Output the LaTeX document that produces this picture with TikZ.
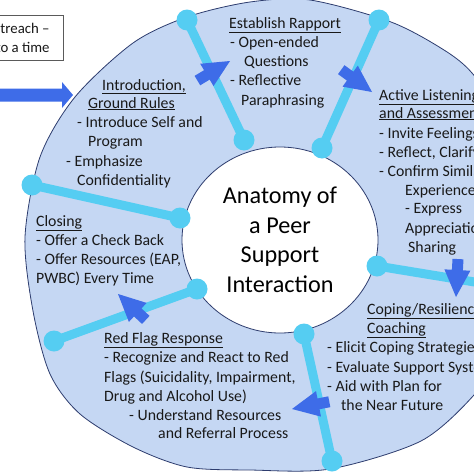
\documentclass[tikz,border=0pt]{standalone}
\usepackage{fontspec}
\setmainfont{Carlito}
\usetikzlibrary{shapes.geometric}
\definecolor{ringblue}{RGB}{197,215,243}
\definecolor{edgeblue}{RGB}{45,60,110}
\definecolor{connblue}{RGB}{85,205,242}
\definecolor{arrblue}{RGB}{62,108,232}
\definecolor{boxgray}{RGB}{90,90,90}
\tikzset{
  ring/.style={fill=ringblue, draw=edgeblue, line width=0.8pt},
  hub/.style={ellipse, fill=white, draw=edgeblue, line width=0.8pt, minimum width=196pt, minimum height=186pt, inner sep=0pt, align=center, font=\fontsize{24.2}{29.5}\selectfont},
  spoke/.style={draw=connblue, line width=9pt},
  knob/.style={circle, fill=connblue, minimum size=21pt, inner sep=0pt},
  ln/.style={anchor=base west, inner sep=0pt, font=\fontsize{15.8}{19}\selectfont, text=black!90},
  obox/.style={draw=boxgray, line width=0.8pt, fill=white, minimum height=45pt, minimum width=80pt, inner xsep=14pt, align=right, font=\fontsize{14.8}{19}\selectfont, text=black!90},
  flow/.pic={\fill[arrblue] (0,0) -- (-27,13) -- (-27,5.5) -- (-38,5.5) -- (-38,-5.5) -- (-27,-5.5) -- (-27,-13) -- cycle;}
}
\begin{document}
\begin{tikzpicture}[x=1pt,y=-1pt]
\useasboundingbox (0,0) rectangle (474,474);
\clip (0,0) rectangle (474,474);
% ring
\draw[ring] plot[smooth cycle] coordinates {(25,237) (40,157) (75,97) (133,43) (187,17) (250,2) (310,0) (391,22) (444,50) (472,73) (500,115) (512,180) (515,240) (508,310) (490,365) (474,395) (421,441) (330,469) (250,470) (187,467) (133,447) (80,414) (50,374) (33,311)};
% hub
\node[hub] (hub) at (280,240) {Anatomy of\\a Peer\\Support\\Interaction};
% spokes
\node[knob] (s1o) at (187,20) {};
\node[knob] (s1i) at (244,140) {};
\node[knob] (s2o) at (379,20) {};
\node[knob] (s2i) at (322,148) {};
\node[knob] (s3o) at (505,287) {};
\node[knob] (s3i) at (377,266) {};
\node[knob] (s4o) at (332,461) {};
\node[knob] (s4i) at (304,334) {};
\node[knob] (s5o) at (54,341) {};
\node[knob] (s5i) at (197,289) {};
\node[knob] (s6o) at (32,185) {};
\node[knob] (s6i) at (180,218) {};
\draw[spoke] (s1o.center) -- (s1i.center);
\draw[spoke] (s2o.center) -- (s2i.center);
\draw[spoke] (s3o.center) -- (s3i.center);
\draw[spoke] (s4o.center) -- (s4i.center);
\draw[spoke] (s5o.center) -- (s5i.center);
\draw[spoke] (s6o.center) -- (s6i.center);
% flow arrows
\pic[rotate=31] at (230,61) {flow};
\pic[rotate=-36] at (372,92) {flow};
\pic[rotate=-93] at (456,297) {flow};
\pic[rotate=191] at (292,409) {flow};
\pic[rotate=137] at (118,294) {flow};
% entry arrow and box
\fill[arrblue] (-20,88.5) -- (62,88.5) -- (62,82) -- (73,95) -- (62,108) -- (62,101.5) -- (-20,101.5) -- cycle;
\node[obox, anchor=east] (outreach) at (64,37.5) {Outreach –\\one to a time};
% Introduction
\node[ln] (i1) at (102,90) {\underline{Introduction,}};
\node[ln] (i2) at (88,108) {\underline{Ground Rules}};
\node[ln] (i3) at (77,127) {- Introduce Self and};
\node[ln] (i4) at (88,146) {Program};
\node[ln] (i5) at (66,166) {- Emphasize};
\node[ln] (i6) at (77,185) {Confidentiality};
% Establish Rapport
\node[ln] (e1) at (229,28) {\underline{Establish Rapport}};
\node[ln] (e2) at (230,47) {- Open-ended};
\node[ln] (e3) at (244,66) {Questions};
\node[ln] (e4) at (230,85) {- Reflective};
\node[ln] (e5) at (241,105) {Paraphrasing};
% Active Listening
\node[ln] (a1) at (379,100) {\underline{Active Listening}};
\node[ln] (a2) at (379,118) {\underline{and Assessment}};
\node[ln] (a3) at (379,138) {- Invite Feelings};
\node[ln] (a4) at (379,157) {- Reflect, Clarify};
\node[ln] (a5) at (379,176) {- Confirm Similar};
\node[ln] (a6) at (405,195) {Experiences};
\node[ln] (a7) at (405,213) {- Express};
\node[ln] (a8) at (405,233) {Appreciation for};
\node[ln] (a9) at (408,252) {Sharing};
% Coping
\node[ln] (k1) at (367,314) {\underline{Coping/Resilience}};
\node[ln] (k2) at (367,333) {\underline{Coaching}};
\node[ln] (k3) at (327,352) {- Elicit Coping Strategies};
\node[ln] (k4) at (327,372) {- Evaluate Support System};
\node[ln] (k5) at (327,391) {- Aid with Plan for};
\node[ln] (k6) at (341,410) {the Near Future};
% Red Flag
\node[ln] (r1) at (104,343) {\underline{Red Flag Response}};
\node[ln] (r2) at (104,362) {- Recognize and React to Red};
\node[ln] (r3) at (104,382) {Flags (Suicidality, Impairment,};
\node[ln] (r4) at (104,401) {Drug and Alcohol Use)};
\node[ln] (r5) at (129,420) {- Understand Resources};
\node[ln] (r6) at (158,438) {and Referral Process};
% Closing
\node[ln] (c1) at (36,226) {\underline{Closing}};
\node[ln] (c2) at (36,245) {- Offer a Check Back};
\node[ln] (c3) at (36,264) {- Offer Resources (EAP,};
\node[ln] (c4) at (36,283) {PWBC) Every Time};
\end{tikzpicture}
\end{document}
